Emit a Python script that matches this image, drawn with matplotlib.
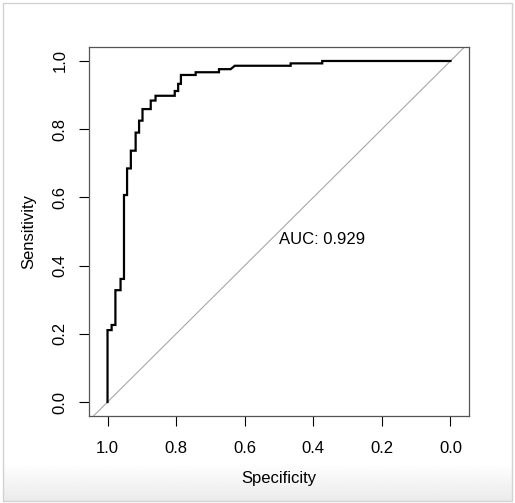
import numpy as np
import matplotlib
matplotlib.use("Agg")
import matplotlib.pyplot as plt
from matplotlib.patches import Rectangle

# ROC curve points (specificity, sensitivity)
specificity = [1.000, 1.000, 0.988, 0.988, 0.977, 0.977, 0.962, 0.962, 0.952, 0.952,
               0.943, 0.943, 0.932, 0.932, 0.918, 0.918, 0.908, 0.908, 0.898, 0.898,
               0.874, 0.874, 0.860, 0.860, 0.804, 0.804, 0.794, 0.794, 0.786, 0.786,
               0.743, 0.743, 0.675, 0.675, 0.641, 0.629, 0.466, 0.466, 0.374, 0.374,
               0.000]
sensitivity = [0.000, 0.211, 0.211, 0.226, 0.226, 0.328, 0.328, 0.361, 0.361, 0.607,
               0.607, 0.685, 0.685, 0.737, 0.737, 0.790, 0.790, 0.825, 0.825, 0.859,
               0.859, 0.884, 0.884, 0.898, 0.898, 0.912, 0.912, 0.933, 0.933, 0.959,
               0.959, 0.967, 0.967, 0.976, 0.976, 0.986, 0.986, 0.993, 0.993, 1.000,
               1.000]
auc_text = "AUC: 0.929"
tick_values = [1.0, 0.8, 0.6, 0.4, 0.2, 0.0]
tick_labels = ["1.0", "0.8", "0.6", "0.4", "0.2", "0.0"]
ytick_values = [0.0, 0.2, 0.4, 0.6, 0.8, 1.0]
ytick_labels = ["0.0", "0.2", "0.4", "0.6", "0.8", "1.0"]

plt.rcParams['font.family'] = ['Liberation Sans', 'DejaVu Sans']

W, H = 515, 503
fig = plt.figure(figsize=(W / 100, H / 100), dpi=100)

# bottom gradient of the window frame
gax = fig.add_axes([3 / W, 2 / H, 509 / W, 38 / H], zorder=-10)
grad = np.linspace(1.0, 0.92, 64).reshape(-1, 1)
gax.imshow(grad, aspect='auto', cmap='gray', vmin=0, vmax=1, extent=[0, 1, 1, 0])
gax.set_axis_off()
fig.patches.append(Rectangle((3 / W, 2 / H), 509 / W, 498 / H, transform=fig.transFigure,
                             fill=False, edgecolor='#d2d2d2', linewidth=1.0, zorder=-5))

left, right, top, bottom = 89, 469, 47, 415.7
ax = fig.add_axes([left / W, 1 - bottom / H, (right - left) / W, (bottom - top) / H])
ax.set_xlim(1.054, -0.054)
ax.set_ylim(-0.04, 1.041)

ax.axline((1, 0), (0, 1), color='#a8a8a8', linewidth=0.8, zorder=1)
ax.plot(specificity, sensitivity, color='black', linewidth=1.6, zorder=2,
        solid_joinstyle='miter')
ax.text(0.5, 0.5, auc_text, ha='left', va='top', fontsize=12, color='black')

ax.set_xticks(tick_values)
ax.set_xticklabels(tick_labels)
ax.set_yticks(ytick_values)
ax.set_yticklabels(ytick_labels, rotation=90, va='center')
ax.tick_params(axis='both', direction='out', length=7.5, width=0.8, labelsize=12,
               colors='black')
ax.tick_params(axis='x', pad=11)
ax.tick_params(axis='y', pad=8)
for s in ax.spines.values():
    s.set_color('#555555')
    s.set_linewidth(0.9)

ax.set_xlabel("Specificity", fontsize=12)
ax.set_ylabel("Sensitivity", fontsize=12)
ax.xaxis.set_label_coords(0.5, (bottom - 479) / (bottom - top))
ax.xaxis.label.set_va('center')
ax.yaxis.set_label_coords((29 - left) / (right - left), 0.5)
ax.yaxis.label.set_va('center')

fig.savefig("out.png", dpi=100)
